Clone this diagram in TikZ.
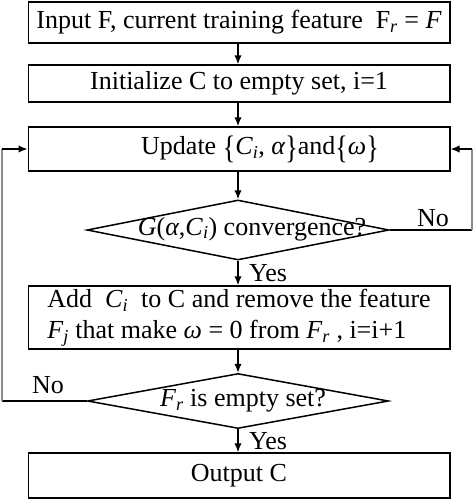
\documentclass[tikz,border=0pt]{standalone}
\usepackage{fontspec}
\setmainfont{Liberation Serif}
\usetikzlibrary{arrows.meta,shapes.geometric}
\newcommand\ssub[1]{\textsubscript{\textit{#1}}}
\newcommand\bigbr[1]{\raisebox{-0.12em}{\scalebox{1}[1.25]{#1}}}
\begin{document}
\begin{tikzpicture}[x=1pt,y=-1pt,
  every node/.style={font=\fontsize{26}{31}\selectfont, text=black},
  box/.style={draw, line width=1.5pt, minimum width=421.5pt, inner sep=0pt},
  dia/.style={draw, diamond, line width=1.5pt, inner sep=0pt},
  txt/.style={inner sep=0pt},
  arr/.style={line width=1.5pt, -{Latex[length=9pt,width=7.5pt]}},
  ln/.style={line width=1.5pt},
  gln/.style={line width=1.5pt, draw=black!45}]
\useasboundingbox (0,0) rectangle (474,499);
\node[box, minimum height=41pt] (b1) at (239,22.5) {Input F, current training feature\ \ F\ssub{r} = \textit{F}};
\node[box, minimum height=37pt] (b2) at (239,83.5) {Initialize C to empty set, i=1};
\node[box, minimum height=44pt] (b3) at (239,149) {};
\node[txt] (b3t) at (260,149) {Update \bigbr{\{}\textit{C}\ssub{i}, \textit{α}\bigbr{\}}and\bigbr{\{}\textit{ω}\bigbr{\}}};
\node[dia, minimum width=302pt, minimum height=60pt] (d1) at (238,230) {};
\node[txt] (d1t) at (252,229) {\textit{G}(\textit{α},\textit{C}\ssub{i}) convergence?};
\node[box, minimum height=63pt, align=left] (b4) at (239,317.5) {Add\ \ \textit{C}\ssub{i}\ \ to C and remove the feature\\\textit{F}\ssub{j} that make \textit{ω} = 0 from \textit{F}\ssub{r} , i=i+1};
\node[dia, minimum width=301pt, minimum height=55pt] (d2) at (238,401) {};
\node[txt] (d2t) at (243,401) {\textit{F}\ssub{r} is empty set?};
\node[box, minimum height=45pt] (b5) at (239,475.5) {Output C};
% labels
\node[txt, anchor=west] (y1) at (249,273) {Yes};
\node[txt, anchor=west] (y2) at (249,441) {Yes};
\node[txt] (n1) at (433,218) {No};
\node[txt] (n2) at (48,385) {No};
% main arrows
\draw[arr] (b1.south -| 238,0) -- (b2.north -| 238,0);
\draw[arr] (b2.south -| 238,0) -- (b3.north -| 238,0);
\draw[arr] (b3.south -| 238,0) -- (d1.north);
\draw[arr] (d1.south) -- (b4.north -| 238,0);
\draw[arr] (b4.south -| 238,0) -- (d2.north);
\draw[arr] (d2.south) -- (b5.north -| 238,0);
% loops
\coordinate (lb) at (2,401);
\coordinate (lt) at (2,149);
\draw[ln] (d2.west) -- (lb);
\draw[gln] (lb) -- (lt);
\draw[arr] (lt) -- (b3.west);
\coordinate (rb) at (472,230);
\coordinate (rt) at (472,149);
\draw[ln] (d1.east) -- (rb);
\draw[gln] (rb) -- (rt);
\draw[arr] (rt) -- (b3.east);
\end{tikzpicture}
\end{document}
